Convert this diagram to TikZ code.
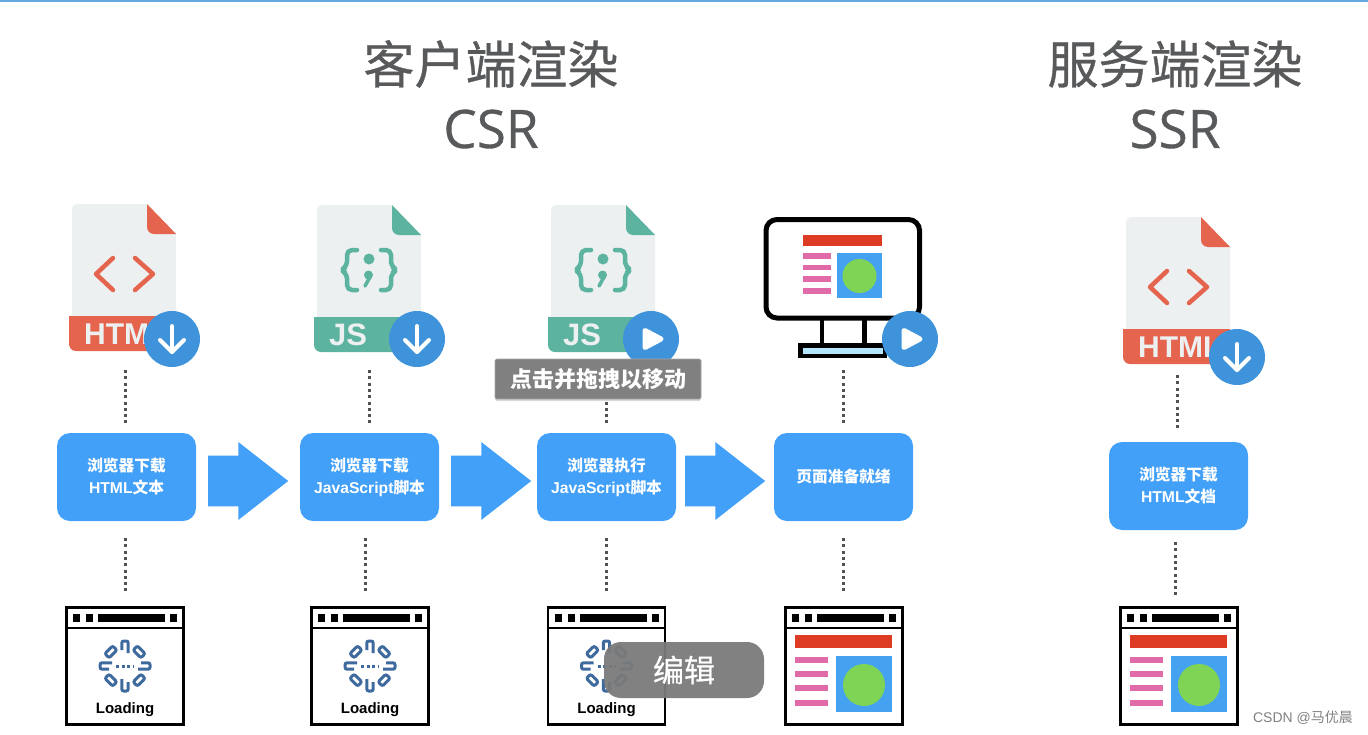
\documentclass[tikz,border=0pt]{standalone}
\usepackage{fontspec}
\setmainfont{Liberation Sans}
\newfontfamily\cjk{Noto Sans CJK SC}
\newfontfamily\cjkmed[FakeBold=0.6]{Noto Sans CJK SC}
\newfontfamily\opensans[FakeBold=0.6]{Open Sans}
\usetikzlibrary{shapes.arrows,shadows}

\definecolor{titlegray}{HTML}{58595B}
\definecolor{boxblue}{HTML}{42A0F8}
\definecolor{badgeblue}{HTML}{3E93DA}
\definecolor{htmlred}{HTML}{E5644E}
\definecolor{jsgreen}{HTML}{5CB3A0}
\definecolor{paper}{HTML}{ECF0F1}
\definecolor{barred}{HTML}{DD3B24}
\definecolor{linepink}{HTML}{E06BA8}
\definecolor{imgblue}{HTML}{45A2F0}
\definecolor{imggreen}{HTML}{7FD455}
\definecolor{spinblue}{HTML}{3F6A9E}

\tikzset{
  titletext/.style={text=titlegray,inner sep=0pt},
  stepbox/.style={fill=boxblue,rounded corners=13pt,minimum width=139pt,minimum height=88pt,
    inner sep=0pt,text=white,align=center,font=\bfseries\fontsize{15.7}{22}\selectfont},
  flowarrow/.style={single arrow,fill=boxblue,inner ysep=13pt,inner xsep=0pt,minimum width=78pt,
    minimum height=80pt,single arrow tip angle=76,single arrow head indent=0pt,anchor=tail},
  dotline/.style={draw=black!68,line width=3pt,dash pattern=on 3pt off 3.3pt},
  filedoc/.pic={
    \fill[paper] (0,112) [rounded corners=5pt] -- (0,0) [sharp corners] -- (75,0) -- (104,30) -- (104,112) -- cycle;
    \fill[#1] (75,0) [rounded corners=7pt] -- (75,30) [sharp corners] -- (104,30) -- cycle;
    \fill[#1] (-3,112) [rounded corners=7pt] -- (-3,147) -- (104,147) [sharp corners] -- (104,112) -- cycle;
  },
  htmlfile/.pic={
    \pic {filedoc=htmlred};
    \draw[htmlred,line width=4.5pt,line cap=round,line join=round] (41,54) -- (24,70) -- (41,86);
    \draw[htmlred,line width=4.5pt,line cap=round,line join=round] (63,54) -- (81,70) -- (63,86);
    \node[anchor=base west,inner sep=0pt,text=paper,font=\bfseries\fontsize{30}{30}\selectfont] (tag) at (12,140) {HTML};
  },
  jsfile/.pic={
    \pic {filedoc=jsgreen};
    \draw[jsgreen,line width=4.5pt,line cap=round,line join=round,rounded corners=5pt]
      (40,45) -- (30,45) -- (30,61) -- (24,65) -- (30,69) -- (30,85) -- (40,85);
    \draw[jsgreen,line width=4.5pt,line cap=round,line join=round,rounded corners=5pt]
      (64,45) -- (74,45) -- (74,61) -- (80,65) -- (74,69) -- (74,85) -- (64,85);
    \fill[jsgreen] (52,54) circle (5.5);
    \fill[jsgreen] (51.5,70) circle (4.5);
    \draw[jsgreen,line width=3.6pt,line cap=round] (53,72) -- (48,81);
    \node[anchor=base west,inner sep=0pt,text=paper,font=\bfseries\fontsize{31}{31}\selectfont] (tag) at (12,140) {JS};
  },
  downbadge/.pic={
    \fill[badgeblue] (0,0) circle (28);
    \draw[white,line width=4pt,line cap=round,line join=round] (0,-13) -- (0,13);
    \draw[white,line width=4pt,line cap=round,line join=round] (-12,1) -- (0,13) -- (12,1);
  },
  playbadge/.pic={
    \fill[badgeblue] (0,0) circle (28);
    \fill[white,draw=white,line width=5pt,line join=round] (-6,-8.5) -- (10,0) -- (-6,8.5) -- cycle;
  },
  browserframe/.pic={
    \draw[line width=2.5pt] (0.7,0.7) rectangle (117.5,117.5);
    \draw[line width=2.5pt] (0.7,21) -- (117.5,21);
    \fill (7,7) rectangle (14,15);
    \fill (20,7) rectangle (27,15);
    \fill (32,7) rectangle (99,15);
    \fill (104,7) rectangle (111,15);
    \coordinate (top) at (59,0);
  },
  loadwin/.pic={
    \pic {browserframe};
    \foreach \a in {0,90,180,270}
      \draw[spinblue,line width=3pt,rounded corners=2pt,shift={(59,59)},rotate=\a]
        (13,3.2) -- (25,3.2) -- (25,-3.2) -- (16,-3.2);
    \foreach \a in {45,135,225,315}
      \draw[spinblue,line width=3pt,rounded corners=2pt,shift={(59,59)},rotate=\a]
        (17,-5.5) rectangle (23,5.5);
    \draw[spinblue,line width=3pt,dash pattern=on 3pt off 2.5pt] (50,59) -- (68,59);
    \node[inner sep=0pt,font=\bfseries\fontsize{15}{15}\selectfont] (label) at (59,103) {Loading};
  },
  pagewin/.pic={
    \pic {browserframe};
    \fill[barred] (10,28) rectangle (107,41);
    \foreach \y in {50,64,78,93}
      \fill[linepink] (10,\y) rectangle (43,\y+6);
    \fill[imgblue] (51,49) rectangle (107,105);
    \fill[imggreen] (79,78) circle (21);
  },
}

\begin{document}
\begin{tikzpicture}[x=1pt,y=-1pt]
\useasboundingbox (0,0) rectangle (1368,734);
\fill[badgeblue!80] (0,0) rectangle (1368,1.5);

% titles
\node[titletext,font=\cjkmed\fontsize{51}{51}\selectfont] (csrcn) at (491,64) {客户端渲染};
\node[titletext,font=\opensans\fontsize{53}{53}\selectfont] (csren) at (491,129) {CSR};
\node[titletext,font=\cjkmed\fontsize{51}{51}\selectfont] (ssrcn) at (1175,64) {服务端渲染};
\node[titletext,font=\opensans\fontsize{53}{53}\selectfont] (ssren) at (1175,129) {SSR};

% files
\pic (file1) at (72,204) {htmlfile};
\pic (file2) at (317,205) {jsfile};
\pic (file3) at (551,205) {jsfile};
\pic (file5) at (1126,217) {htmlfile};
\pic (badge1) at (172,339) {downbadge};
\pic (badge2) at (417,339) {downbadge};
\pic (badge3) at (651,339) {playbadge};
\pic (badge5) at (1237,357) {downbadge};

% monitor
\draw[line width=5pt,rounded corners=11pt] (766,219.5) rectangle (919.5,318);
\draw[line width=4.5pt] (822,320) -- (822,345);
\draw[line width=4.5pt] (864.5,320) -- (864.5,345);
\draw[line width=4.5pt,fill=cyan!30!white] (800.5,345.5) rectangle (885,356);
\fill[barred] (803,235) rectangle (882,246);
\foreach \y in {253,264.5,276,288}
  \fill[linepink] (803,\y) rectangle (831,\y+5.5);
\fill[imgblue] (837,253) rectangle (882,298);
\fill[imggreen] (859.5,276) circle (17);
\pic (badge4) at (910,339) {playbadge};

% boxes
\node[stepbox] (box1) at (126.5,477) {{\cjk 浏览器下载}\\HTML{\cjk 文本}};
\node[stepbox] (box2) at (369.5,477) {{\cjk 浏览器下载}\\JavaScript{\cjk 脚本}};
\node[stepbox] (box3) at (606.5,477) {{\cjk 浏览器执行}\\JavaScript{\cjk 脚本}};
\node[stepbox] (box4) at (843.5,477) {{\cjk 页面准备就绪}};
\node[stepbox] (box5) at (1178.5,486) {{\cjk 浏览器下载}\\HTML{\cjk 文档}};

\node[flowarrow] (arrow1) at (208,481) {};
\node[flowarrow] (arrow2) at (451,481) {};
\node[flowarrow] (arrow3) at (685,481) {};

% browser windows
\pic (win1) at (66,607) {loadwin};
\pic (win2) at (311,607) {loadwin};
\pic (win3) at (547.5,607) {loadwin};
\pic (win4) at (785,607) {pagewin};
\pic (win5) at (1120,607) {pagewin};

% dotted lines
\foreach \n/\xa/\ya/\yb/\xc/\yc/\yd in {1/125/370/424/125/538/592,2/369/370/424/365/538/592,3/606/370/424/606/538/592,4/843/370/424/843/538/592,5/1177/375/429/1175/542/596}{
  \coordinate (upa\n) at (\xa,\ya);
  \coordinate (upb\n) at (\xa,\yb);
  \coordinate (lowa\n) at (\xc,\yc);
  \coordinate (lowb\n) at (\xc,\yd);
  \draw[dotline] (upa\n) -- (upb\n);
  \draw[dotline] (lowa\n) -- (lowb\n);
}

% overlays
\node[fill=black!50,draw=black!35,line width=.6pt,drop shadow={opacity=.3,shadow xshift=0pt,shadow yshift=-2pt},
  minimum width=206pt,minimum height=40pt,inner sep=0pt,text=white,rounded corners=1.5pt,
  font=\cjk\bfseries\fontsize{22}{22}\selectfont] (tooltip) at (598,379) {点击并拖拽以移动};
\node[fill=black!52,fill opacity=.95,text opacity=1,rounded corners=17pt,minimum width=160pt,minimum height=56pt,
  inner sep=0pt,text=white,font=\cjkmed\fontsize{31}{31}\selectfont] (editpill) at (684,670) {编辑};
\node[inner sep=0pt,text=black!50,font=\fontsize{14}{14}\selectfont] (mark) at (1303,718) {CSDN @{\cjk 马优晨}};
\end{tikzpicture}
\end{document}
